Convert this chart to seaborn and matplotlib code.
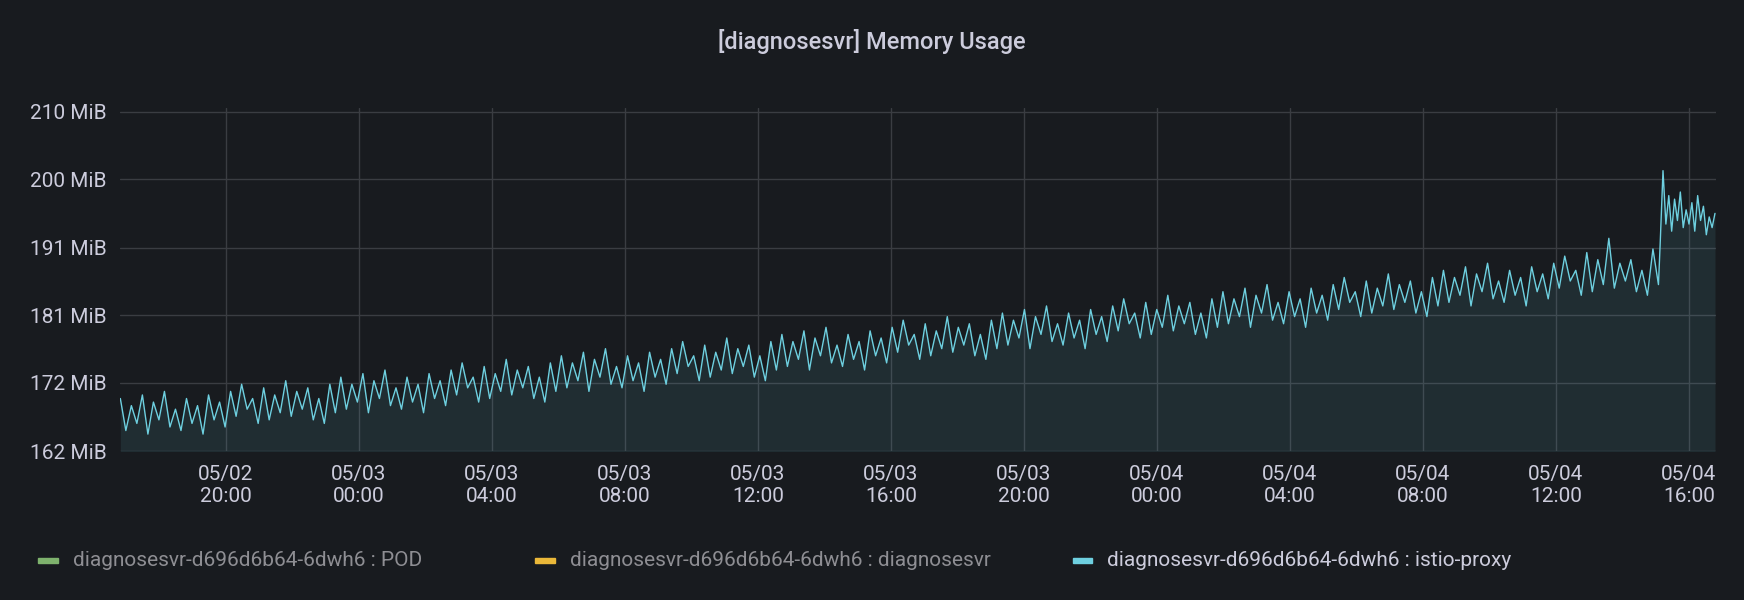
import matplotlib
matplotlib.use("Agg")
import matplotlib.pyplot as plt
import matplotlib.dates as mdates
import seaborn as sns
import pandas as pd

title = "[diagnosesvr] Memory Usage"
ytick_vals = [162.1, 171.7, 181.2, 190.7, 200.3, 209.8]
ytick_labels = ["162 MiB", "172 MiB", "181 MiB", "191 MiB", "200 MiB", "210 MiB"]
legend_labels = ["diagnosesvr-d696d6b64-6dwh6 : POD",
                 "diagnosesvr-d696d6b64-6dwh6 : diagnosesvr",
                 "diagnosesvr-d696d6b64-6dwh6 : istio-proxy"]
legend_colors = ["#7eb26d", "#eab839", "#6ed0e0"]

values_before = [
    169.5,165,168.5,166,170,164.5,169,166.5,170.5,165.5,168,165,169.5,166,168.5,164.5,170,166.5,169,165.5,
    170.5,167,171.5,168,169.5,166,171,166.5,170,167.5,172,167,170.5,168,171,166.5,169.5,166,171.5,167.5,
    172.5,168,171.5,169,173,167.5,172,169.5,173.5,168.5,171,168,172.5,169,171.5,167.5,173,169.5,172,168.5,
    173.5,170,174.5,171,172.5,169,174,169.5,173,170.5,175,170,173.5,171,174,169.5,172.5,169,174.5,170.5,
    175.5,171,174.5,172,176,170.5,175,172.5,176.5,171.5,174,171,175.5,172,174.5,170.5,176,172.5,175,171.5,
    176.5,173,177.5,174,175.5,172,177,172.5,176,173.5,178,173,176.5,174,177,172.5,175.5,172,177.5,173.5,
    178.5,174,177.5,175,179,173.5,178,175.5,179.5,174.5,177,174,178.5,175,177.5,173.5,179,175.5,178,174.5,
    179.5,176,180.5,177,178.5,175,180,175.5,179,176.5,181,176,179.5,177,180,175.5,178.5,175,180.5,176.5,
    181.5,177,180.5,178,182,176.5,181,178.5,182.5,177.5,180,177,181.5,178,180.5,176.5,182,178.5,181,177.5,
    182.5,179,183.5,180,181.5,178,183,178.5,182,179.5,184,179,182.5,180,183,178.5,181.5,178,183.5,179.5,
    184.5,180,183.5,181,185,179.5,184,181.5,185.5,180.5,183,180,184.5,181,183.5,179.5,185,181.5,184,180.5,
    185.5,182,186.5,183,184.5,181,186,181.5,185,182.5,187,182,185.5,183,186,181.5,184.5,181,186.5,182.5,
    187.5,183,186.5,184,188,182.5,187,184.5,188.5,183.5,186,183,187.5,184,186.5,182.5,188,184.5,187,183.5,
    188.5,185,189.5,186,187.5,184,190,184.5,189,185.5,192,185,188.5,186,189,184.5,187.5,184,190.5,185.5,
]
values_after = [191,201.5,194,198,193,197.5,194.5,198.5,193.5,196,194,197,193,198,194.5,196.5,192.5,195,193.5,195.5]

t1 = pd.date_range("2021-05-02 16:50", "2021-05-04 15:05", periods=len(values_before))
t2 = pd.date_range("2021-05-04 15:08", "2021-05-04 16:47", periods=len(values_after))
df = pd.DataFrame({"time": list(t1) + list(t2), "mem": values_before + values_after})

bg = "#181b1f"
sns.set_theme(style="dark")
plt.rcParams['font.family'] = ['Roboto', 'DejaVu Sans']
fig = plt.figure(figsize=(17.44, 6), dpi=100, facecolor=bg)
ax = fig.add_axes([0.069, 0.248, 0.915, 0.572])
ax.set_facecolor(bg)
sns.lineplot(data=df, x="time", y="mem", ax=ax, color="#6ed0e0", lw=1.0)
ax.fill_between(df["time"], df["mem"], 150, color="#6ed0e0", alpha=0.1, lw=0)
ax.set_ylim(162.1, 210.3)
ax.set_xlim(pd.Timestamp("2021-05-02 16:50"), pd.Timestamp("2021-05-04 16:49"))
ax.set_yticks(ytick_vals)
ax.set_yticklabels(ytick_labels)
ax.xaxis.set_major_locator(mdates.HourLocator(byhour=[0, 4, 8, 12, 16, 20]))
ax.xaxis.set_major_formatter(mdates.DateFormatter("%m/%d\n%H:%M"))
ax.grid(True, color="#3a3d42", lw=1)
for s in ax.spines.values():
    s.set_visible(False)
ax.tick_params(colors="#ccccdc", labelsize=15, length=0, pad=10)
ax.set_xlabel(""); ax.set_ylabel("")
fig.text(0.5, 0.93, title, ha="center", va="center", color="#ccccdc", fontsize=17, fontweight="medium")
xs = [0.022, 0.307, 0.615]
for x, lab, c, i in zip(xs, legend_labels, legend_colors, range(3)):
    fig.patches.append(plt.Rectangle((x, 0.062), 0.011, 0.008, color=c, transform=fig.transFigure))
    fig.text(x + 0.02, 0.066, lab, va="center", fontsize=15,
             color="#ccccdc" if i == 2 else "#8e8e93")
fig.savefig("out.png", dpi=100, facecolor=bg)
